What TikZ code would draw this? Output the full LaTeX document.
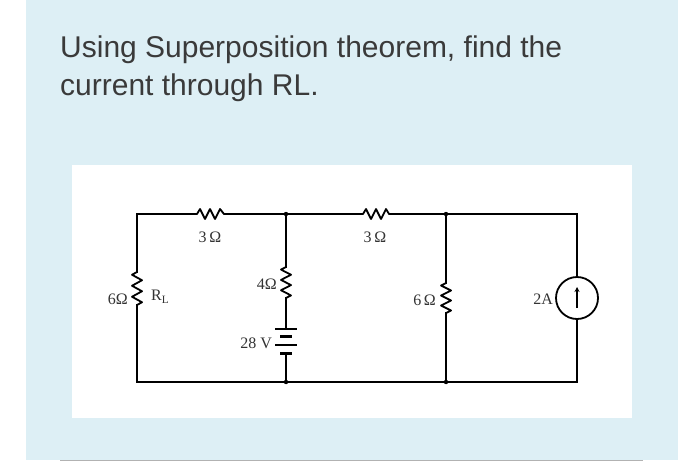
\documentclass[tikz,border=0pt]{standalone}
\usepackage{fontspec}
\usetikzlibrary{arrows.meta}
\setmainfont{Liberation Serif}
\newfontfamily\titlefont{Liberation Sans}
\definecolor{bgblue}{HTML}{DDEFF5}
\definecolor{titlec}{HTML}{3A3A3A}
\begin{document}
\begin{tikzpicture}[x=1pt,y=-1pt,
  wire/.style={line width=2.3pt,line cap=rect},
  res/.style={line width=1.8pt,line join=round},
  lab/.style={font=\fontsize{16}{16}\selectfont,inner sep=0pt,text=black!80}]
\useasboundingbox (0,0) rectangle (700,463);
\fill[white] (0,0) rectangle (700,463);
\fill[bgblue] (26,0) rectangle (678,460);
\fill[white] (72,165) rectangle (632,418);
\draw[gray!60,line width=1pt] (60,460) -- (643,460);
\node[anchor=base west,inner sep=0pt,text=titlec,font=\titlefont\fontsize{30}{30}\selectfont] (t1) at (60,57) {Using Superposition theorem, find the};
\node[anchor=base west,inner sep=0pt,text=titlec,font=\titlefont\fontsize{30}{30}\selectfont] (t2) at (60,95) {current through RL.};
% nodes
\coordinate (tl) at (137,214); \coordinate (bl) at (137,382);
\coordinate (tm) at (286,214); \coordinate (bm) at (286,382);
\coordinate (t3) at (446,214); \coordinate (b3) at (446,382);
\coordinate (tr) at (577,214); \coordinate (br) at (577,382);
% wires
\draw[wire] (bl) -- (137,305); \draw[wire] (137,272) -- (tl) -- (194,214);
\draw[wire] (227,214) -- (tm) -- (360,214); \draw[wire] (390,214) -- (t3) -- (tr) -- (577,277);
\draw[wire] (577,319) -- (br) -- (bl);
\draw[wire] (tm) -- (286,267); \draw[wire] (286,298) -- (286,329);
\draw[wire] (286,353) -- (bm);
\draw[wire] (t3) -- (446,283); \draw[wire] (446,313) -- (b3);
\foreach \p in {tm,bm,t3,b3} \fill (\p) circle (2.2);
% horizontal resistors
\draw[res] (194,214) -- (197,214) -- (200,209) -- (205,219) -- (210,209) -- (215,219) -- (220,209) -- (224,214) -- (227,214);
\draw[res] (360,214) -- (363,214) -- (366,209) -- (371,219) -- (376,209) -- (381,219) -- (386,209) -- (389,214) -- (390,214);
% vertical resistors
\foreach \x/\a/\b in {137/272/305, 286/267/298, 446/283/313}{
  \draw[res] (\x,\a) \foreach \k in {0,...,5}{ -- ({\x+(mod(\k,2)==0?-5:5)},{\a+(\b-\a)*(\k+0.5)/6}) } -- (\x,\b);
}
% battery
\draw[line width=2.2pt] (275,329) -- (297,329);
\draw[line width=3pt] (280,336) -- (292,336);
\draw[line width=2.2pt] (275,345) -- (297,345);
\draw[line width=3pt] (280,353) -- (292,353);
% current source
\node[draw,circle,line width=1.8pt,minimum size=42pt,inner sep=0pt] (cs) at (577,298) {};
\draw[line width=1.4pt,-{Stealth[length=5pt,width=5pt]}] (577,308) -- (577,287);
% labels
\node[lab] (l1) at (210,237) {3\,Ω};
\node[lab] (l2) at (375,237) {3\,Ω};
\node[lab,anchor=east] (l3) at (128,299) {6Ω};
\node[lab,anchor=west] (l4) at (151,297) {R\textsubscript{L}};
\node[lab,anchor=east] (l5) at (277,284) {4Ω};
\node[lab,anchor=east] (l6) at (436,300) {6\,Ω};
\node[lab,anchor=east] (l7) at (553,299) {2A};
\node[lab,anchor=east] (l8) at (272,343) {28 V};
\end{tikzpicture}
\end{document}
